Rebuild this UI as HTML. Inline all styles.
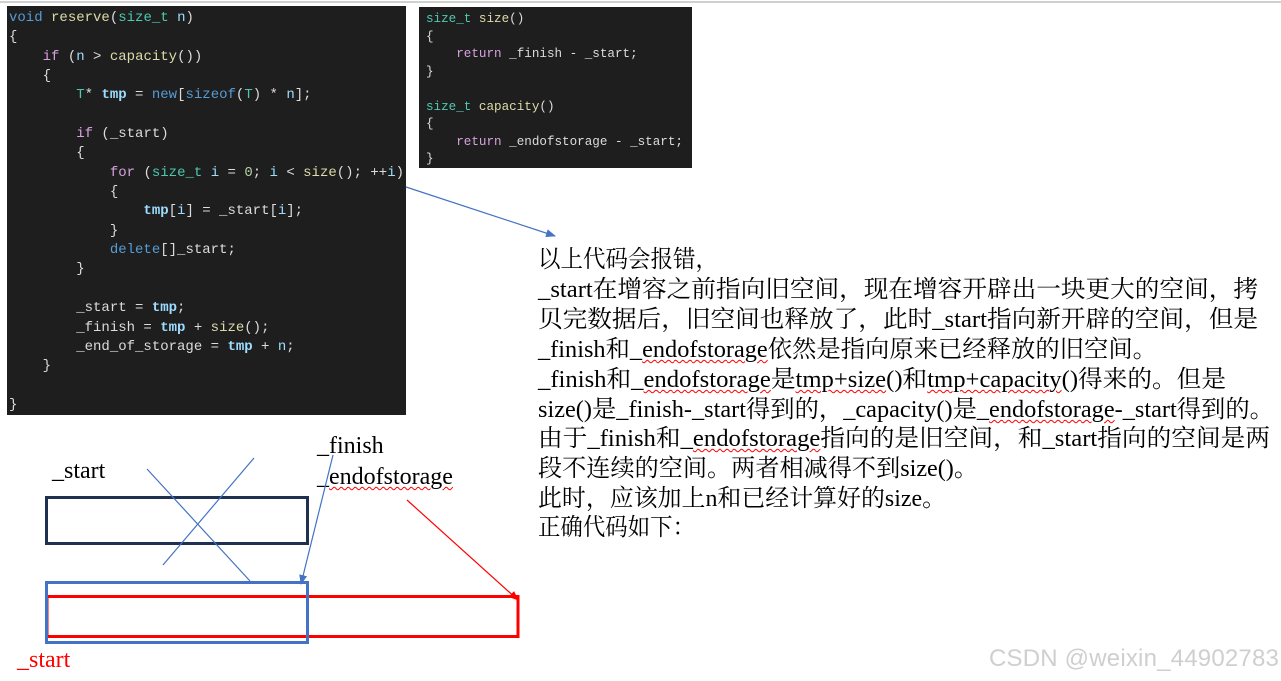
<!DOCTYPE html>
<html><head><meta charset="utf-8">
<style>
body{margin:0;width:1281px;height:681px;background:#fff;position:relative;overflow:hidden;}
.topline{position:absolute;left:0;top:1px;width:1281px;height:2px;background:#d0d0d0;}
.code{position:absolute;background:#1e1e1e;font-family:"Liberation Mono",monospace;color:#dcdcdc;white-space:pre;}
#c1{left:7px;top:6px;width:399px;height:409px;font-size:14px;line-height:19.35px;padding-left:2px;box-sizing:border-box;padding-top:3px;}
#c2{left:419px;top:7px;width:273px;height:161px;font-size:12.6px;line-height:17.5px;padding-left:7px;box-sizing:border-box;padding-top:4px;}
.k{color:#569cd6}.c{color:#d8a0df}.t{color:#4ec9b0}.f{color:#dcdcaa}.v{color:#9cdcfe}.n{color:#b5cea8}.p{color:#9cdcfe}
.b{color:#9cdcfe;font-weight:bold}
.txt{position:absolute;left:538px;font-family:"Liberation Serif","Noto Serif CJK SC",serif;font-size:24px;line-height:30px;white-space:nowrap;transform-origin:0 50%;color:#000;}
.w{text-decoration:underline wavy red;text-decoration-thickness:1px;text-underline-offset:2px;}
.lbl{position:absolute;font-family:"Liberation Serif",serif;font-size:24px;white-space:nowrap;}
</style></head><body>
<div class="topline"></div>
<div class="code" id="c1"><span class="k">void</span> <span class="f">reserve</span>(<span class="t">size_t</span> <span class="p">n</span>)
{
    <span class="c">if</span> (<span class="p">n</span> &gt; <span class="f">capacity</span>())
    {
        <span class="t">T</span>* <span class="b">tmp</span> = <span class="k">new</span>[<span class="k">sizeof</span>(<span class="t">T</span>) * <span class="p">n</span>];

        <span class="c">if</span> (_start)
        {
            <span class="c">for</span> (<span class="t">size_t</span> <span class="v">i</span> = <span class="n">0</span>; <span class="v">i</span> &lt; <span class="f">size</span>(); ++<span class="v">i</span>)
            {
                <span class="b">tmp</span>[<span class="v">i</span>] = _start[<span class="v">i</span>];
            }
            <span class="k">delete</span>[]_start;
        }

        _start = <span class="b">tmp</span>;
        _finish = <span class="b">tmp</span> + <span class="f">size</span>();
        _end_of_storage = <span class="b">tmp</span> + <span class="p">n</span>;
    }

}</div>
<div class="code" id="c2"><span class="t">size_t</span> <span class="f">size</span>()
{
    <span class="c">return</span> _finish - _start;
}

<span class="t">size_t</span> <span class="f">capacity</span>()
{
    <span class="c">return</span> _endofstorage - _start;
}</div>

<div class="txt" data-w="180" style="top:245px">以上代码会报错，</div>
<div class="txt" data-w="720" style="top:275px">_start在增容之前指向旧空间，现在增容开辟出一块更大的空间，拷</div>
<div class="txt" data-w="720" style="top:305px">贝完数据后，旧空间也释放了，此时_start指向新开辟的空间，但是</div>
<div class="txt" data-w="619" style="top:335px">_finish和_<span class="w">endofstorage</span>依然是指向原来已经释放的旧空间。</div>
<div class="txt" data-w="688" style="top:365px">_finish和_<span class="w">endofstorage</span>是<span class="w">tmp+size</span>()和<span class="w">tmp+capacity</span>()得来的。但是</div>
<div class="txt" data-w="736" style="top:395px">size()是_finish-_start得到的，_capacity()是_<span class="w">endofstorage</span>-_start得到的。</div>
<div class="txt" data-w="732" style="top:424px">由于_finish和_<span class="w">endofstorage</span>指向的是旧空间，和_start指向的空间是两</div>
<div class="txt" data-w="440" style="top:454px">段不连续的空间。两者相减得不到size()。</div>
<div class="txt" data-w="408" style="top:484px">此时，应该加上n和已经计算好的size。</div>
<div class="txt" data-w="157" style="top:513px">正确代码如下：</div>

<div class="lbl" style="left:52px;top:458px">_start</div>
<div class="lbl" style="left:317px;top:433px">_finish</div>
<div class="lbl" style="left:317px;top:464px">_<span class="w">endofstorage</span></div>
<div class="lbl" style="left:17px;top:647px;color:#f00">_start</div>

<svg style="position:absolute;left:0;top:0" width="1281" height="681">
<defs>
<marker id="ab" markerWidth="10" markerHeight="8" refX="9" refY="4" orient="auto" markerUnits="userSpaceOnUse"><path d="M0,0 L10,4 L0,8 z" fill="#4472c4"/></marker>
<marker id="ar" markerWidth="10" markerHeight="8" refX="9" refY="4" orient="auto" markerUnits="userSpaceOnUse"><path d="M0,0 L10,4 L0,8 z" fill="#f00"/></marker>
</defs>
<rect x="46.5" y="497.5" width="261" height="46" fill="none" stroke="#1f3050" stroke-width="3"/>
<line x1="147" y1="469" x2="250" y2="581" stroke="#4472c4" stroke-width="1.2"/>
<line x1="254" y1="458" x2="163" y2="565" stroke="#4472c4" stroke-width="1.2"/>
<rect x="47" y="596.5" width="471" height="40" fill="none" stroke="#f00" stroke-width="3"/>
<rect x="46.5" y="582.5" width="261" height="60" fill="none" stroke="#4472c4" stroke-width="3"/>
<line x1="333" y1="455" x2="301" y2="584" stroke="#4472c4" stroke-width="1.2" marker-end="url(#ab)"/>
<line x1="407" y1="500" x2="518" y2="600" stroke="#f00" stroke-width="1.2" marker-end="url(#ar)"/>
<line x1="406" y1="187" x2="555" y2="236" stroke="#4472c4" stroke-width="1.2" marker-end="url(#ab)"/>
</svg>

<div style="position:absolute;left:989px;top:645px;font-family:'Liberation Sans',sans-serif;font-size:24px;color:#cfcfcf;white-space:nowrap;letter-spacing:0.2px">CSDN @weixin_44902783</div>

<script>
document.querySelectorAll('.txt').forEach(function(e){
  var w=+e.getAttribute('data-w');var r=e.getBoundingClientRect().width;
  if(r>0)e.style.transform='scaleX('+(w/r)+')';
});
</script>
</body></html>
